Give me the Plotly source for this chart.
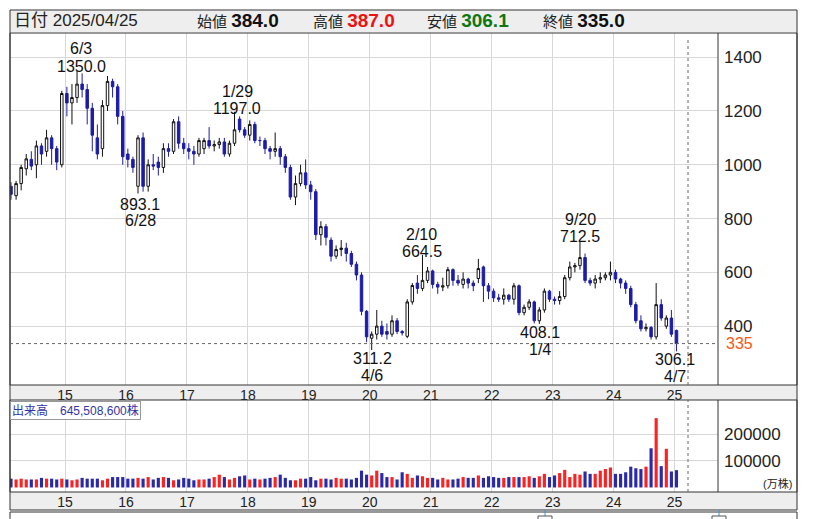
import plotly.graph_objs as go

# page body has an 8px margin, so the figure is drawn 8px in from the window corner
OFF = 8
W, H = 814 - OFF, 519 - OFF

# monthly OHLC, May 2014 .. Apr 2025 (index 0..131)
opens = [920, 885, 930, 985, 1020, 1000, 1070, 1050, 1100, 1060, 1000, 1265,
         1230, 1250, 1300, 1280, 1210, 1100, 1060, 1220, 1310, 1290, 1180, 1040,
         1020, 920, 1100, 920, 1000, 1010, 990, 1060, 1050, 1160, 1080, 1060,
         1050, 1040, 1060, 1090, 1070, 1075, 1085, 1040, 1080, 1170, 1130, 1110,
         1150, 1090, 1090, 1060, 1050, 1060, 1030, 990, 880, 930, 970, 925,
         900, 740, 770, 720, 660, 685, 690, 670, 630, 590, 455, 355,
         370, 400, 380, 370, 420, 380, 362, 490, 560, 540, 570, 605,
         555, 545, 550, 610, 570, 555, 575, 560, 577, 620, 550, 530,
         505, 500, 515, 500, 550, 450, 470, 490, 420, 460, 530, 500,
         495, 510, 580, 620, 625, 655, 570, 560, 575, 580, 590, 600,
         575, 560, 540, 480, 420, 390, 395, 360, 480, 400, 430, 384]
highs = [935, 940, 1000, 1040, 1050, 1090, 1080, 1130, 1110, 1070, 1275, 1290,
         1300, 1350, 1340, 1300, 1230, 1150, 1240, 1330, 1320, 1300, 1200, 1060,
         1030, 1110, 1120, 1020, 1040, 1030, 1080, 1080, 1170, 1180, 1100, 1080,
         1070, 1100, 1100, 1140, 1090, 1100, 1100, 1090, 1197, 1180, 1140, 1165,
         1160, 1105, 1100, 1070, 1120, 1070, 1040, 1000, 960, 1000, 1020, 940,
         910, 790, 780, 730, 700, 720, 710, 680, 640, 600, 460, 380,
         460, 420, 410, 440, 430, 385, 500, 560, 590, 664.5, 620, 610,
         565, 580, 620, 615, 590, 600, 580, 570, 650, 625, 560, 540,
         520, 540, 520, 560, 555, 480, 500, 495, 470, 540, 535, 510,
         530, 590, 640, 635, 712.5, 670, 580, 590, 600, 600, 640, 610,
         580, 570, 550, 490, 440, 410, 400, 560, 500, 440, 460, 387]
lows = [870, 870, 905, 960, 980, 950, 1000, 1030, 1000, 980, 990, 1180,
        1150, 1230, 1250, 1150, 1050, 1020, 1030, 1200, 1250, 1150, 1000, 990,
        970, 893.1, 900, 900, 980, 960, 970, 1030, 1040, 1060, 1040, 1020,
        1000, 1030, 1040, 1060, 1050, 1060, 1030, 1030, 1070, 1120, 1100, 1090,
        1080, 1070, 1040, 1020, 1030, 1000, 970, 870, 850, 920, 910, 870,
        720, 700, 700, 640, 650, 660, 640, 620, 570, 440, 340, 311.2,
        350, 360, 350, 360, 370, 365, 355, 480, 520, 530, 560, 540,
        520, 530, 540, 550, 550, 540, 540, 530, 560, 490, 500, 490,
        490, 480, 490, 480, 440, 440, 460, 410, 408.1, 450, 490, 480,
        480, 500, 570, 600, 610, 560, 550, 540, 560, 570, 570, 560,
        540, 520, 470, 410, 380, 380, 350, 350, 420, 390, 360, 306.1]
closes = [890, 930, 990, 1022, 995, 1070, 1040, 1100, 1060, 1010, 1265, 1230,
          1250, 1300, 1280, 1210, 1110, 1040, 1220, 1310, 1290, 1180, 1030, 1020,
          990, 1100, 920, 1000, 995, 990, 1060, 1050, 1160, 1080, 1060, 1050,
          1040, 1090, 1090, 1070, 1075, 1085, 1040, 1080, 1130, 1130, 1110, 1150,
          1090, 1090, 1060, 1050, 1060, 1030, 990, 880, 930, 970, 925, 900,
          740, 770, 730, 660, 685, 690, 670, 630, 590, 455, 360, 370,
          400, 370, 370, 420, 380, 375, 490, 551, 540, 570, 605, 555,
          545, 550, 610, 570, 560, 575, 560, 550, 614, 550, 530, 505,
          500, 515, 500, 550, 450, 470, 490, 420, 460, 530, 500, 495,
          510, 580, 620, 625, 655, 570, 560, 575, 580, 590, 600, 575,
          560, 540, 480, 420, 390, 395, 360, 480, 430, 430, 370, 335]
volumes_k = [33, 30, 33, 30, 30, 30, 36, 33, 33, 30, 33, 30,
             27, 30, 36, 33, 33, 33, 27, 33, 39, 39, 39, 33,
             33, 36, 33, 39, 30, 36, 39, 36, 27, 30, 36, 33,
             27, 30, 30, 33, 39, 48, 39, 30, 36, 42, 45, 30,
             33, 30, 33, 36, 39, 48, 36, 27, 27, 33, 33, 39,
             27, 33, 33, 30, 36, 33, 33, 30, 36, 63, 48, 45,
             63, 54, 39, 39, 30, 57, 51, 36, 45, 42, 36, 36,
             30, 36, 30, 30, 33, 39, 36, 36, 45, 36, 42, 39,
             36, 36, 39, 39, 39, 39, 42, 36, 42, 51, 39, 45,
             54, 66, 39, 51, 48, 60, 51, 51, 63, 69, 75, 51,
             51, 57, 78, 72, 69, 78, 147, 260, 80, 145, 60, 65]
year_labels = ["15", "16", "17", "18", "19", "20", "21", "22", "23", "24", "25"]
price_ticks = [400, 600, 800, 1000, 1200, 1400]
vol_ticks = [100000, 200000]
last_close = 335

# high / low marker labels: (date, price)
mark_dates = ["6/3", "1/29", "6/28", "2/10", "4/6", "9/20", "1/4", "4/7"]
mark_prices = ["1350.0", "1197.0", "893.1", "664.5", "311.2", "712.5", "408.1", "306.1"]
mark_is_high = [True, True, False, True, False, True, False, False]

idx = list(range(len(closes)))
volumes = [v * 1000 for v in volumes_k]
vol_colors = ["#ff2020" if c >= o else "#2a2aa8" for o, c in zip(opens, closes)]


def px(x):
    return (x - OFF) / W


def py(y):
    return 1 - (y - OFF) / H


X0, X1 = 10, 718
slot = 5.08
mx = lambda x: (x - 11) / slot
xrange_ = [mx(X0), mx(X1)]
tickvals = [mx(65) + 12 * k for k in range(len(year_labels))]

fig = go.Figure()
fig.add_trace(go.Candlestick(
    x=idx, open=opens, high=highs, low=lows, close=closes,
    increasing=dict(line=dict(color="#111111", width=1), fillcolor="white"),
    decreasing=dict(line=dict(color="#1c1ca8", width=1), fillcolor="#1c1ca8"),
    whiskerwidth=0, showlegend=False, hoverinfo="skip",
    xaxis="x", yaxis="y"))
fig.add_trace(go.Bar(
    x=idx, y=volumes, marker=dict(color=vol_colors, line=dict(width=0)),
    width=0.62, showlegend=False, hoverinfo="skip", xaxis="x2", yaxis="y2"))

font = "Liberation Sans, Noto Sans CJK JP, sans-serif"
axis_common = dict(range=xrange_, tickmode="array", tickvals=tickvals,
                   ticktext=year_labels, showgrid=True, gridcolor="#d8d8d8",
                   zeroline=False, ticks="", tickfont=dict(size=14, color="#222"),
                   rangeslider=dict(visible=False), fixedrange=True)

fig.update_layout(
    width=W, height=H, margin=dict(l=0, r=0, t=0, b=0),
    paper_bgcolor="white", plot_bgcolor="white",
    font=dict(family=font, color="#222"),
    xaxis=dict(domain=[px(X0), px(X1)], anchor="y", **axis_common),
    yaxis=dict(domain=[py(385), py(33)], range=[181, 1490], side="right",
               tickvals=price_ticks, showgrid=True, gridcolor="#d8d8d8",
               zeroline=False, tickfont=dict(size=17, color="#222"), ticks="",
               ticklabelstandoff=5),
    xaxis2=dict(domain=[px(X0), px(X1)], anchor="y2", **axis_common),
    yaxis2=dict(domain=[py(492), py(400)], range=[-17000, 328000], side="right",
                tickvals=vol_ticks, ticktext=[str(v) for v in vol_ticks],
                showgrid=True, gridcolor="#d8d8d8", ticklabelstandoff=5,
                zeroline=False, tickfont=dict(size=17, color="#222"), ticks=""),
    bargap=0.3,
)

shapes = []
# header band and grey label bands
for y0, y1 in [(10, 32), (385, 400), (492, 510)]:
    shapes.append(dict(type="rect", xref="paper", yref="paper", x0=px(10), x1=px(797),
                       y0=py(y1), y1=py(y0), fillcolor="#eeeeee", line=dict(width=0), layer="below"))
# frames
for y0, y1 in [(10, 510), (33, 385), (400, 492)]:
    shapes.append(dict(type="rect", xref="paper", yref="paper", x0=px(10), x1=px(797),
                       y0=py(y1), y1=py(y0), line=dict(color="#333", width=1)))
for y0, y1 in [(33, 385), (400, 492)]:
    shapes.append(dict(type="line", xref="paper", yref="paper", x0=px(X1), x1=px(X1),
                       y0=py(y1), y1=py(y0), line=dict(color="#333", width=1)))
shapes.append(dict(type="rect", xref="paper", yref="paper", x0=px(10), x1=px(797),
                   y0=py(525), y1=py(512), line=dict(color="#333", width=1)))
# last-price guides
shapes.append(dict(type="line", xref="paper", yref="y", x0=px(X0), x1=px(X1),
                   y0=last_close, y1=last_close, line=dict(color="#666", width=1, dash="dot")))
for ya, yb in [(385, 38), (492, 400)]:
    shapes.append(dict(type="line", xref="x", yref="paper", x0=mx(688), x1=mx(688),
                       y0=py(ya), y1=py(yb), line=dict(color="#666", width=1, dash="dot")))
for a in [545, 719]:
    shapes.append(dict(type="line", xref="paper", yref="paper", x0=px(a), x1=px(a),
                       y0=py(516), y1=py(510), line=dict(color="#3399dd", width=1)))
    shapes.append(dict(type="rect", xref="paper", yref="paper", x0=px(a - 7), x1=px(a + 7),
                       y0=py(525), y1=py(516), fillcolor="white", line=dict(color="#555", width=1)))
fig.update_layout(shapes=shapes)

ann = []
ann.append(dict(xref="paper", yref="paper", x=px(12), y=py(21), xanchor="left", yanchor="middle",
                text="日付 2025/04/25", showarrow=False, font=dict(size=17, color="#222")))
for xx, label, val, col in [(195, "始値", "384.0", "#111"), (311, "高値", "387.0", "#ee1111"),
                            (425, "安値", "306.1", "#117711"), (541, "終値", "335.0", "#111")]:
    ann.append(dict(xref="paper", yref="paper", x=px(xx), y=py(21), xanchor="left", yanchor="middle",
                    text=f"{label} <b><span style='font-size:19px;color:{col}'>{val}</span></b>",
                    showarrow=False, font=dict(size=15, color="#222")))
ann.append(dict(xref="paper", yref="y", x=px(724), y=last_close, xanchor="left", yanchor="middle",
                text="335", showarrow=False, font=dict(size=16, color="#ff5511")))
ann.append(dict(xref="paper", yref="paper", x=px(794), y=py(483), xanchor="right", yanchor="middle",
                text="(万株)", showarrow=False, font=dict(size=11, color="#222")))
ann.append(dict(xref="paper", yref="paper", x=px(10), y=py(401), xanchor="left", yanchor="top",
                text="出来高　645,508,600株", showarrow=False, bgcolor="white",
                bordercolor="#999", borderwidth=1, borderpad=1, font=dict(size=12, color="#3333aa")))

# label centres (x, y of the upper line) in window pixels
mark_pos = [(81, 49), (237, 91), (140, 204), (422, 234), (372, 358), (580, 219), (540, 332), (675, 359)]
for (xx, yy), d, p, hi in zip(mark_pos, mark_dates, mark_prices, mark_is_high):
    lines = [d, p] if hi else [p, d]
    for k, t in enumerate(lines):
        ann.append(dict(xref="paper", yref="paper", x=px(xx), y=py(yy + 17 * k),
                        xanchor="center", yanchor="middle", text=t, showarrow=False,
                        font=dict(size=16, color="#111")))
fig.update_layout(annotations=ann)

fig.write_html("out.html")
